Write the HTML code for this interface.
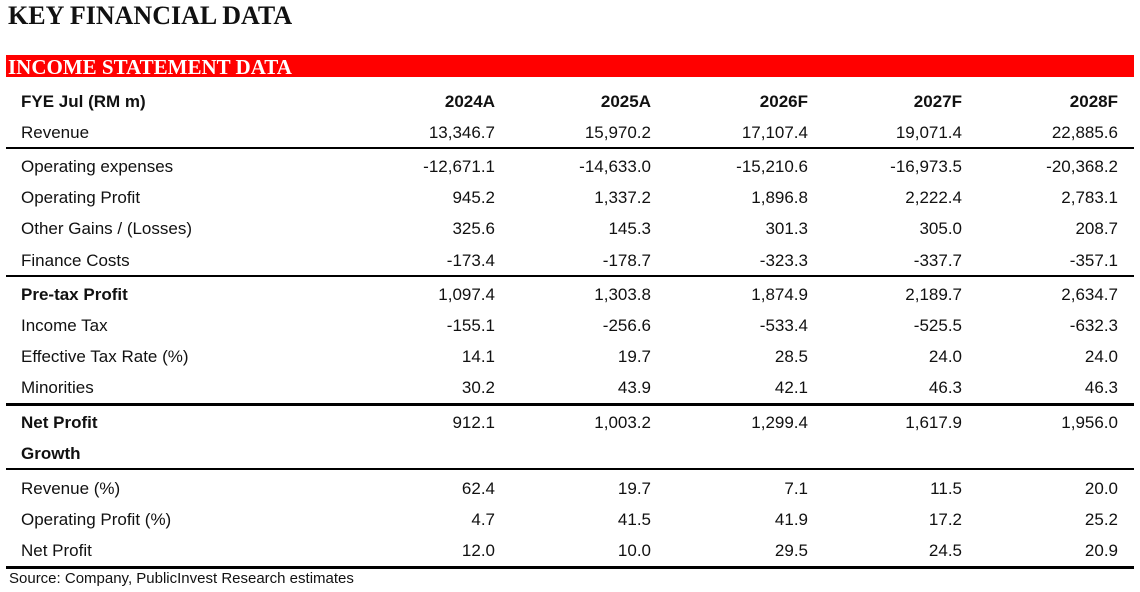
<!DOCTYPE html>
<html><head><style>
body{margin:0;width:1140px;height:592px;background:#fff;position:relative;overflow:hidden;font-family:"Liberation Sans",Arial,sans-serif;color:#111}
.t{position:absolute;left:8px;top:1px;font-family:"Liberation Serif",serif;font-weight:bold;font-size:26px}
.bar{position:absolute;left:6px;top:55px;width:1128px;height:22px;background:#f00;color:#fff;font-family:"Liberation Serif",serif;font-weight:bold;font-size:21px;line-height:24px;padding-left:2px;box-sizing:border-box}
.r{position:absolute;left:0;width:1140px;height:20px;font-size:17px;line-height:20px}
.r span{position:absolute;top:0}
.r .l{left:21px}
.r .c1{right:645px}.r .c2{right:489px}.r .c3{right:332px}.r .c4{right:178px}.r .c5{right:22px}
.b{font-weight:bold}
.ln{position:absolute;left:6px;width:1128px;background:#000}
.s{position:absolute;left:9px;top:570px;font-size:15px}
</style></head><body>
<div class="t">KEY FINANCIAL DATA</div>
<div class="bar">INCOME STATEMENT DATA</div>
<div class="r b" style="top:92px"><span class="l">FYE Jul (RM m)</span><span class="c1">2024A</span><span class="c2">2025A</span><span class="c3">2026F</span><span class="c4">2027F</span><span class="c5">2028F</span></div>
<div class="r" style="top:123px"><span class="l">Revenue</span><span class="c1">13,346.7</span><span class="c2">15,970.2</span><span class="c3">17,107.4</span><span class="c4">19,071.4</span><span class="c5">22,885.6</span></div>
<div class="ln" style="top:147px;height:2px"></div>
<div class="r" style="top:157px"><span class="l">Operating expenses</span><span class="c1">-12,671.1</span><span class="c2">-14,633.0</span><span class="c3">-15,210.6</span><span class="c4">-16,973.5</span><span class="c5">-20,368.2</span></div>
<div class="r" style="top:188px"><span class="l">Operating Profit</span><span class="c1">945.2</span><span class="c2">1,337.2</span><span class="c3">1,896.8</span><span class="c4">2,222.4</span><span class="c5">2,783.1</span></div>
<div class="r" style="top:219px"><span class="l">Other Gains / (Losses)</span><span class="c1">325.6</span><span class="c2">145.3</span><span class="c3">301.3</span><span class="c4">305.0</span><span class="c5">208.7</span></div>
<div class="r" style="top:251px"><span class="l">Finance Costs</span><span class="c1">-173.4</span><span class="c2">-178.7</span><span class="c3">-323.3</span><span class="c4">-337.7</span><span class="c5">-357.1</span></div>
<div class="ln" style="top:275px;height:2px"></div>
<div class="r" style="top:285px"><span class="l b">Pre-tax Profit</span><span class="c1">1,097.4</span><span class="c2">1,303.8</span><span class="c3">1,874.9</span><span class="c4">2,189.7</span><span class="c5">2,634.7</span></div>
<div class="r" style="top:316px"><span class="l">Income Tax</span><span class="c1">-155.1</span><span class="c2">-256.6</span><span class="c3">-533.4</span><span class="c4">-525.5</span><span class="c5">-632.3</span></div>
<div class="r" style="top:347px"><span class="l">Effective Tax Rate (%)</span><span class="c1">14.1</span><span class="c2">19.7</span><span class="c3">28.5</span><span class="c4">24.0</span><span class="c5">24.0</span></div>
<div class="r" style="top:378px"><span class="l">Minorities</span><span class="c1">30.2</span><span class="c2">43.9</span><span class="c3">42.1</span><span class="c4">46.3</span><span class="c5">46.3</span></div>
<div class="ln" style="top:403px;height:3px"></div>
<div class="r" style="top:413px"><span class="l b">Net Profit</span><span class="c1">912.1</span><span class="c2">1,003.2</span><span class="c3">1,299.4</span><span class="c4">1,617.9</span><span class="c5">1,956.0</span></div>
<div class="r" style="top:444px"><span class="l b">Growth</span></div>
<div class="ln" style="top:468px;height:2px"></div>
<div class="r" style="top:479px"><span class="l">Revenue (%)</span><span class="c1">62.4</span><span class="c2">19.7</span><span class="c3">7.1</span><span class="c4">11.5</span><span class="c5">20.0</span></div>
<div class="r" style="top:510px"><span class="l">Operating Profit (%)</span><span class="c1">4.7</span><span class="c2">41.5</span><span class="c3">41.9</span><span class="c4">17.2</span><span class="c5">25.2</span></div>
<div class="r" style="top:541px"><span class="l">Net Profit</span><span class="c1">12.0</span><span class="c2">10.0</span><span class="c3">29.5</span><span class="c4">24.5</span><span class="c5">20.9</span></div>
<div class="ln" style="top:566px;height:3px"></div>
<div class="s">Source: Company, PublicInvest Research estimates</div>
</body></html>
